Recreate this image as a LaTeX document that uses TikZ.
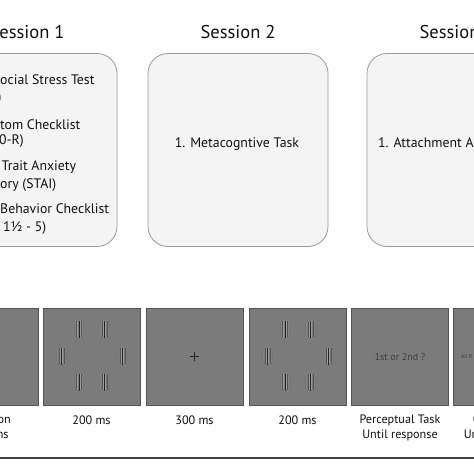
\documentclass[tikz,border=0pt]{standalone}
\usepackage{fontspec}
\setmainfont{PT Sans}
\definecolor{boxfill}{HTML}{F4F4F4}
\definecolor{boxline}{HTML}{9A9A9A}
\definecolor{framefill}{HTML}{7B7B7B}
\definecolor{frameline}{HTML}{555555}
\definecolor{txt}{HTML}{111111}
\tikzset{
  sessbox/.style={draw=boxline, fill=boxfill, rounded corners=20pt, line width=0.8pt,
    minimum width=180pt, minimum height=193pt, inner sep=0pt},
  frame/.style={draw=frameline, fill=framefill, line width=1pt,
    minimum width=97pt, minimum height=97pt, inner sep=0pt},
  title/.style={font=\fontsize{18.5}{21}\selectfont, text=txt, anchor=base, inner sep=0pt},
  item/.style={font=\fontsize{13.8}{15}\selectfont, text=txt, anchor=base west, inner sep=0pt},
  lab/.style={font=\fontsize{12.2}{15}\selectfont, text=txt, anchor=base, inner sep=0pt},
  small/.style={font=\fontsize{10}{11}\selectfont, text=black!75, inner sep=0pt},
}
\newcommand{\gaborpatch}[2]{%
  \foreach \i in {-4,...,4}{%
    \pgfmathsetmacro{\hh}{8.5*sqrt(1-(\i/5.5)^2)}%
    \pgfmathtruncatemacro{\pp}{mod(abs(\i),2)}%
    \ifnum\pp=0 \def\gc{black}\pgfmathsetmacro{\op}{0.7*exp(-(\i/2.3)^2)}%
    \else\def\gc{white}\pgfmathsetmacro{\op}{0.3*exp(-(\i/2.3)^2)}\fi
    \draw[\gc, opacity=\op, line width=1pt] (#1+\i*1.25, #2-\hh) -- (#1+\i*1.25, #2+\hh);
  }}
\newcommand{\gaborset}[2]{%
  \gaborpatch{#1-12.5}{#2-27}\gaborpatch{#1+13}{#2-27}%
  \gaborpatch{#1-30}{#2}\gaborpatch{#1+31}{#2}%
  \gaborpatch{#1-12.5}{#2+26}\gaborpatch{#1+13}{#2+26}}
\begin{document}
\begin{tikzpicture}[x=1pt, y=-1pt]
\useasboundingbox (0,0) rectangle (474,474);
\clip (0,0) rectangle (474,474);
\fill[white] (0,0) rectangle (474,474);

% Sessions
\node[title] (t1) at (27,38) {Session 1};
\node[title] (t2) at (238,38) {Session 2};
\node[title] (t3) at (457,38) {Session 3};

\node[sessbox] (s1) at (27,150) {};
\node[sessbox] (s2) at (238,150) {};
\node[sessbox] (s3) at (457,150) {};

\node[item] (i1a) at (0,84.5) {\llap{1. Trier S}ocial Stress Test};
\node[item] (i1b) at (-2.5,101.5) {\llap{(TSST})};
\node[item] (i2a) at (0,129) {\llap{2. Symp}tom Checklist};
\node[item] (i2b) at (-1,144.5) {\llap{(SCL-9}0-R)};
\node[item] (i3a) at (1.5,170.5) {\llap{3. State-\kern2pt}Trait Anxiety};
\node[item] (i3b) at (0,188.5) {\llap{Invent}ory (STAI)};
\node[item] (i4a) at (0,213.5) {\llap{4. Child }Behavior Checklist};
\node[item] (i4b) at (3,231.5) {\llap{(CBCL }1½ - 5)};

\node[item, anchor=base] (m2) at (237,147.5) {1. Metacogntive Task};
\node[item] (m3) at (378,147.5) {1. Attachment Assessment};

% Trial frames
\node[frame] (f1) at (-10.5,356.5) {};
\node[frame] (f2) at (91.5,356.5) {};
\node[frame] (f3) at (194.5,356.5) {};
\node[frame] (f4) at (297.5,356.5) {};
\node[frame] (f5) at (400,356.5) {};
\node[frame] (f6) at (501.5,356.5) {};

\gaborset{91.5}{356}
\gaborset{297.5}{356}

\draw[black!85, line width=1.5pt] (f3.center) ++(-4.5,0) -- ++(9,0);
\draw[black!85, line width=1.5pt] (f3.center) ++(0,-4.5) -- ++(0,9);

\node[small] (q5) at (f5.center) {1st or 2nd ?};
\node[small, font=\fontsize{5.5}{6}\selectfont, anchor=west] (q6) at (461,357) {All R};

% Labels
\node[lab] (l1a) at (-10.5,423) {Fixation};
\node[lab] (l1b) at (-10.5,438) {500 ms};
\node[lab] (l2) at (91.5,424) {200 ms};
\node[lab] (l3) at (194.5,424) {300 ms};
\node[lab] (l4) at (297.5,424) {200 ms};
\node[lab] (l5a) at (400,423) {Perceptual Task};
\node[lab] (l5b) at (400,438) {Until response};
\node[lab] (l6a) at (501.5,423) {Confidence};
\node[lab] (l6b) at (501.5,438) {Until response};

\coordinate (bl) at (0,458);
\coordinate (br) at (474,458);
\draw[black!75, line width=1.6pt] (bl) -- (br);
\end{tikzpicture}
\end{document}
